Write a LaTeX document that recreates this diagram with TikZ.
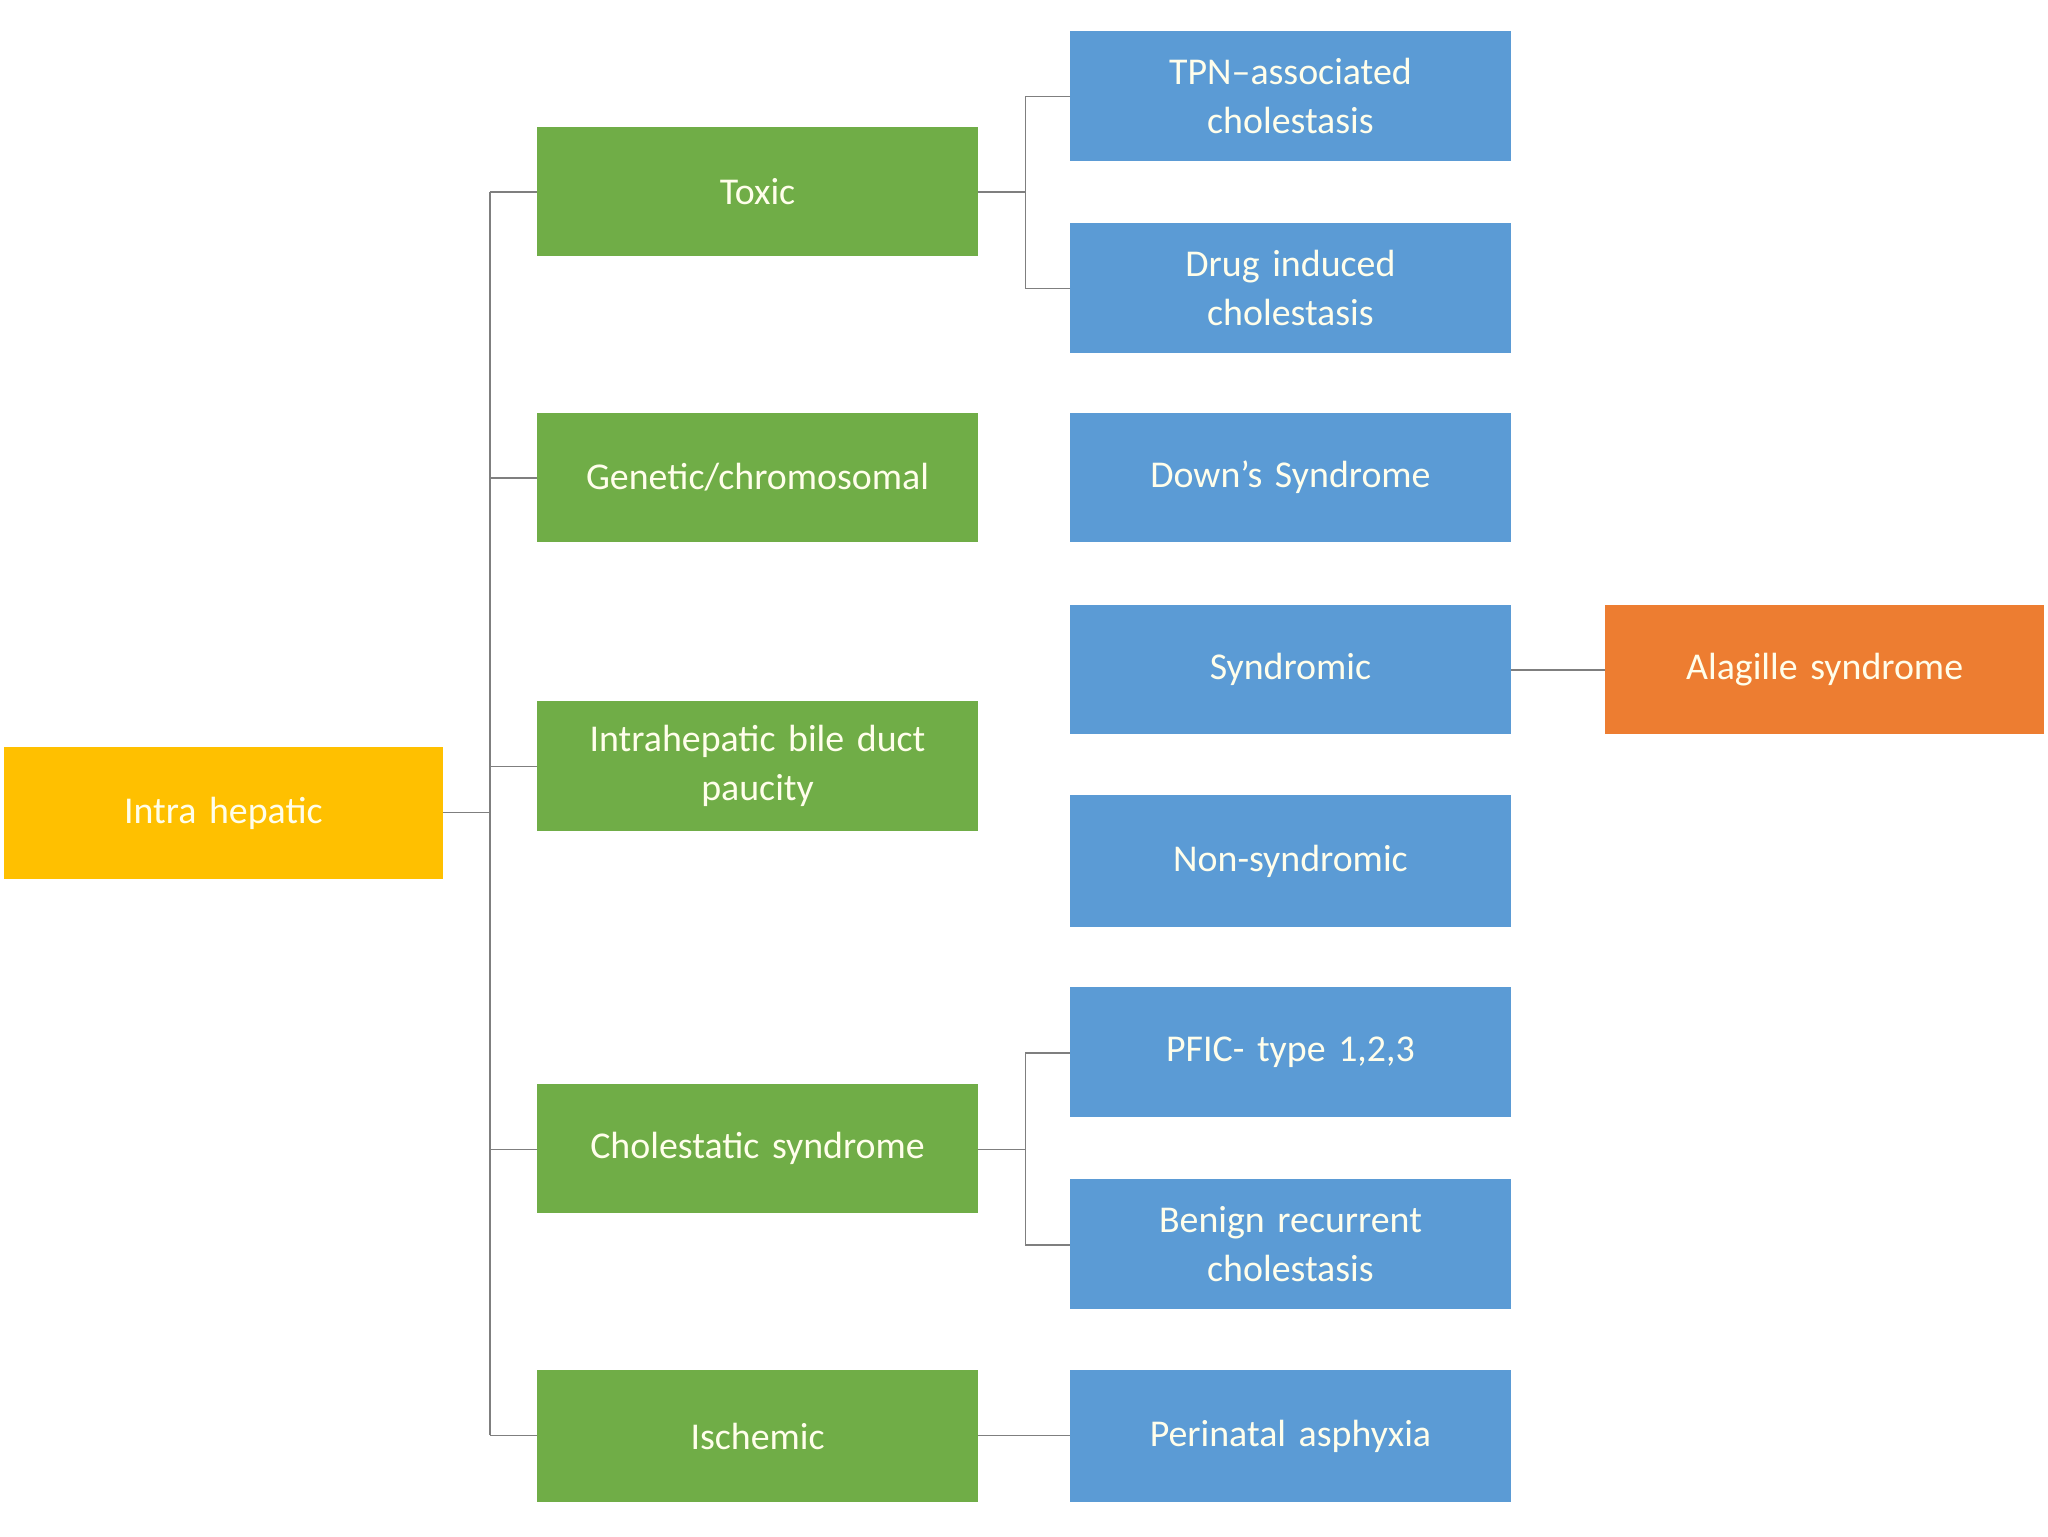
\documentclass[tikz,border=0pt]{standalone}
\usepackage{fontspec}
\setmainfont{Carlito}
\definecolor{cy}{HTML}{FFC000}
\definecolor{cg}{HTML}{70AD47}
\definecolor{cb}{HTML}{5B9BD5}
\definecolor{co}{HTML}{ED7D31}
\definecolor{cl}{HTML}{7F7F7F}
\begin{document}
\begin{tikzpicture}[x=1pt,y=-1pt,
  box/.style={inner sep=0pt,align=center,text=white!92!yellow,font=\fontsize{29}{37}\selectfont},
  ln/.style={draw=cl,line width=1.2pt}]
\useasboundingbox (0,0) rectangle (1568,1176);
\newcommand\bx[7]{\fill[#6] (#2,#3) rectangle (#4,#5); \node[box,text width=#4-#2-10] (#1) at ({(#2+#4)/2},{(#3+#5)/2}) {#7};}
\bx{ih}{3}{572}{339}{673}{cy}{Intra hepatic}
\bx{tox}{411}{97}{749}{196}{cg}{Toxic}
\bx{gen}{411}{316}{749}{415}{cg}{Genetic/chromosomal}
\bx{ibd}{411}{537}{749}{636}{cg}{Intrahepatic bile duct\\paucity}
\bx{cho}{411}{830}{749}{929}{cg}{Cholestatic syndrome}
\bx{isc}{411}{1049}{749}{1150}{cg}{Ischemic}
\bx{tpn}{819}{24}{1157}{123}{cb}{TPN--associated\\cholestasis}
\bx{drg}{819}{171}{1157}{270}{cb}{Drug induced\\cholestasis}
\bx{dow}{819}{316}{1157}{415}{cb}{Down’s Syndrome}
\bx{syn}{819}{463}{1157}{562}{cb}{Syndromic}
\bx{non}{819}{609}{1157}{710}{cb}{Non-syndromic}
\bx{pfi}{819}{756}{1157}{855}{cb}{PFIC- type 1,2,3}
\bx{ben}{819}{903}{1157}{1002}{cb}{Benign recurrent\\cholestasis}
\bx{per}{819}{1049}{1157}{1150}{cb}{Perinatal asphyxia}
\bx{ala}{1229}{463}{1565}{562}{co}{Alagille syndrome}
% connectors
\coordinate (t0) at (375,622);
\draw[ln] (339,622) -- (t0);
\foreach \n/\y in {tox/147,gen/366,ibd/587,cho/880,isc/1099}{\draw[ln] (375,\y) -- (411,\y);}
\draw[ln] (375,147) -- (375,1099);
\newcommand\fork[5]{\draw[ln] (749,#1) -- (785,#1); \draw[ln] (819,#2) -- (785,#2) -- (785,#3) -- (819,#3);}
\fork{147}{74}{221}
\fork{587}{513}{660}
\fork{880}{806}{953}
\draw[ln] (749,366) -- (819,366);
\draw[ln] (749,1099) -- (819,1099);
\draw[ln] (1157,513) -- (1229,513);
\end{tikzpicture}
\end{document}
